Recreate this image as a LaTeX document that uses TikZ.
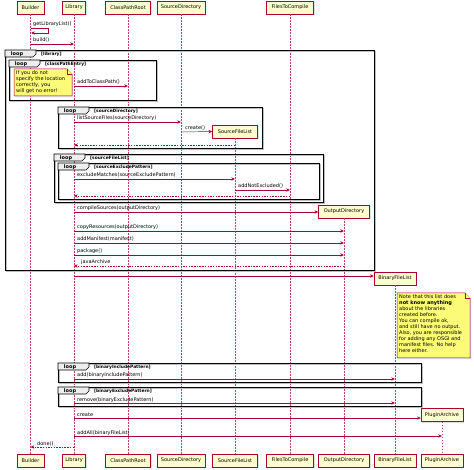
\documentclass[tikz,border=0pt]{standalone}
\usepackage{fontspec}
\setmainfont{DejaVu Sans}
\usetikzlibrary{arrows.meta,shadows}
\definecolor{pb}{HTML}{A80036}
\definecolor{pf}{HTML}{FEFECE}
\definecolor{nf}{HTML}{FBFB77}
\definecolor{tabf}{HTML}{EEEEEE}
\newcommand{\lpframe}[5]{%
  \draw[frmsh] (#1+1.5,#2+1.5) rectangle (#3+1.5,#4+1.5);
  \draw[frm] (#1,#2) rectangle (#3,#4);
  \draw[tabshape] (#1,#2) -- (#1+31,#2) -- (#1+31,#2+4) -- (#1+28,#2+7) -- (#1,#2+7) -- cycle;
  \node[looptxt] at (#1+12,#2+4) {loop};
  \node[condtxt] at (#1+36,#2+4.2) {[#5]};
}
\begin{document}
\begin{tikzpicture}[x=1pt,y=-1pt,
  part/.style={draw=pb, fill=pf, line width=0.5pt, inner sep=0pt, minimum height=13pt,
    font=\fontsize{5.0}{6}\selectfont,
    drop shadow={shadow xshift=1.2pt,shadow yshift=-1.2pt,fill=black!25}},
  life/.style={draw=pb!75, line width=0.35pt, dash pattern=on 1.5pt off 1.5pt},
  msg/.style={draw=pb, line width=0.45pt, -{Stealth[length=3.8pt,width=3.4pt]}},
  ret/.style={msg, dash pattern=on 1.5pt off 1.2pt},
  lbl/.style={font=\fontsize{5.0}{6}\selectfont, anchor=base west, inner sep=0pt},
  frm/.style={draw=black, line width=0.9pt},
  frmsh/.style={draw=black!25, line width=1pt},
  tabshape/.style={draw=black, line width=0.6pt, fill=tabf},
  looptxt/.style={font=\bfseries\fontsize{5.0}{6}\selectfont, inner sep=0pt},
  condtxt/.style={font=\bfseries\fontsize{4.4}{5}\selectfont, inner sep=0pt, anchor=west},
  notebox/.style={draw=pb, fill=nf, line width=0.5pt},
  notetxt/.style={font=\fontsize{5.0}{6}\selectfont, align=left, inner sep=0pt, anchor=north west}
]
\useasboundingbox (0,0) rectangle (474,470);

% participants top
\node[part, minimum width=27pt] (tB) at (30.5,7.5) {Builder};
\node[part, minimum width=23pt] (tL) at (74,7.5) {Library};
\node[part, minimum width=45pt] (tC) at (128,7.5) {ClassPathRoot};
\node[part, minimum width=48pt] (tSD) at (181,7.5) {SourceDirectory};
\node[part, minimum width=47pt] (tFC) at (290,7.5) {FilesToCompile};
% created participants
\node[part, minimum width=45pt] (tSF) at (235,131.5) {SourceFileList};
\node[part, minimum width=51pt] (tOD) at (344,211.5) {OutputDirectory};
\node[part, minimum width=42pt] (tBF) at (395,278.5) {BinaryFileList};
\node[part, minimum width=42pt] (tPA) at (442,415) {PluginArchive};
% participants bottom
\node[part, minimum width=27pt] (bB) at (30.5,460.5) {Builder};
\node[part, minimum width=23pt] (bL) at (74,460.5) {Library};
\node[part, minimum width=45pt] (bC) at (128,460.5) {ClassPathRoot};
\node[part, minimum width=48pt] (bSD) at (181,460.5) {SourceDirectory};
\node[part, minimum width=45pt] (bSF) at (235,460.5) {SourceFileList};
\node[part, minimum width=47pt] (bFC) at (290,460.5) {FilesToCompile};
\node[part, minimum width=51pt] (bOD) at (344,460.5) {OutputDirectory};
\node[part, minimum width=42pt] (bBF) at (395,460.5) {BinaryFileList};
\node[part, minimum width=42pt] (bPA) at (442,460.5) {PluginArchive};

% lifelines
\draw[life] (tB.south) -- (bB.north);
\draw[life] (tL.south) -- (bL.north);
\draw[life] (tC.south) -- (bC.north);
\draw[life] (tSD.south) -- (bSD.north);
\draw[life] (tSF.south) -- (bSF.north);
\draw[life] (tFC.south) -- (bFC.north);
\draw[life] (tOD.south) -- (bOD.north);
\draw[life] (tBF.south) -- (bBF.north);
\draw[life] (tPA.south) -- (bPA.north);

% messages
\draw[msg] (tB.south |- 0,28) -- ++(17.5,0) -- ++(0,5) -- ++(-17,0);
\node[lbl] (l1) at (33,26) {getLibraryList()};
\draw[msg] (tB.south |- 0,44) -- (tL.south |- 0,44);
\node[lbl] (l2) at (33,42) {build()};

\lpframe{5}{50}{374}{270}{library}
\lpframe{9}{60}{156}{100}{classPathEntry}

% note 1
\draw[notebox, drop shadow={shadow xshift=1.2pt,shadow yshift=-1.2pt,fill=black!25}]
  (14,69) -- (67,69) -- (72,74) -- (72,96) -- (14,96) -- cycle;
\draw[notebox] (67,69) -- (67,74) -- (72,74);
\node[notetxt] (n1) at (16,70.5) {If you do not\\specify the location\\correctly, you\\will get no error!};

\draw[msg] (tL.south |- 0,86) -- (tC.south |- 0,86);
\node[lbl] at (77,84) {addToClassPath()};

\lpframe{58}{107}{262}{148}{sourceDirectory}
\draw[msg] (tL.south |- 0,122) -- (tSD.south |- 0,122);
\node[lbl] at (77,120) {listSourceFiles(sourceDirectory)};
\draw[msg] (tSD.south |- 0,132) -- (tSF.west);
\node[lbl] at (185,129.5) {create()};
\draw[ret] (tSF.south |- 0,145) -- (tL.south |- 0,145);

\lpframe{54}{154}{323}{202}{sourceFileList}
\lpframe{58}{163}{319}{199}{sourceExcludePattern}
\draw[msg] (tL.south |- 0,179) -- (tSF.south |- 0,179);
\node[lbl] at (77,177) {excludeMatches(sourceExcludePattern)};
\draw[msg] (tSF.south |- 0,190) -- (tFC.south |- 0,190);
\node[lbl] at (238,188) {addNotExcluded()};
\draw[ret] (tFC.south |- 0,196) -- (tL.south |- 0,196);

\draw[msg] (tL.south |- 0,212) -- (tOD.west |- 0,212);
\node[lbl] at (77,210) {compileSources(outputDirectory)};
\draw[msg] (tL.south |- 0,231) -- (tOD.south |- 0,231);
\node[lbl] at (77,229) {copyResources(outputDirectory)};
\draw[msg] (tL.south |- 0,243) -- (tOD.south |- 0,243);
\node[lbl] at (77,241) {addManifest(manifest)};
\draw[msg] (tL.south |- 0,255) -- (tOD.south |- 0,255);
\node[lbl] at (77,253) {package()};
\draw[ret] (tOD.south |- 0,266) -- (tL.south |- 0,266);
\node[lbl] at (81,264) {javaArchive};

\draw[msg] (tL.south |- 0,276) -- (tBF.west |- 0,276);

% note 2
\draw[notebox, drop shadow={shadow xshift=1.2pt,shadow yshift=-1.2pt,fill=black!25}]
  (397,293) -- (465,293) -- (470,298) -- (470,358) -- (397,358) -- cycle;
\draw[notebox] (465,293) -- (465,298) -- (470,298);
\node[notetxt] (n2) at (399,295) {Note that this list does\\\textbf{not know anything}\\about the libraries\\created before.\\You can compile ok,\\and still have no output.\\Also, you are responsible\\for adding any OSGI and\\manifest files. No help\\here either.};

\lpframe{58}{363}{421}{382}{binaryIncludePattern}
\draw[msg] (tL.south |- 0,379) -- (tBF.south |- 0,379);
\node[lbl] at (77,377) {add(binaryIncludePattern)};
\lpframe{58}{387}{421}{406}{binaryExcludePattern}
\draw[msg] (tL.south |- 0,403) -- (tBF.south |- 0,403);
\node[lbl] at (77,401) {remove(binaryExcludePattern)};

\draw[msg] (tL.south |- 0,418) -- (tPA.west |- 0,418);
\node[lbl] at (77,416) {create};
\draw[msg] (tL.south |- 0,436) -- (tPA.south |- 0,436);
\node[lbl] at (77,434) {addAll(binaryFileList)};
\draw[ret] (tL.south |- 0,447) -- (tB.south |- 0,447);
\node[lbl] at (37,445) {done()};
\end{tikzpicture}
\end{document}
